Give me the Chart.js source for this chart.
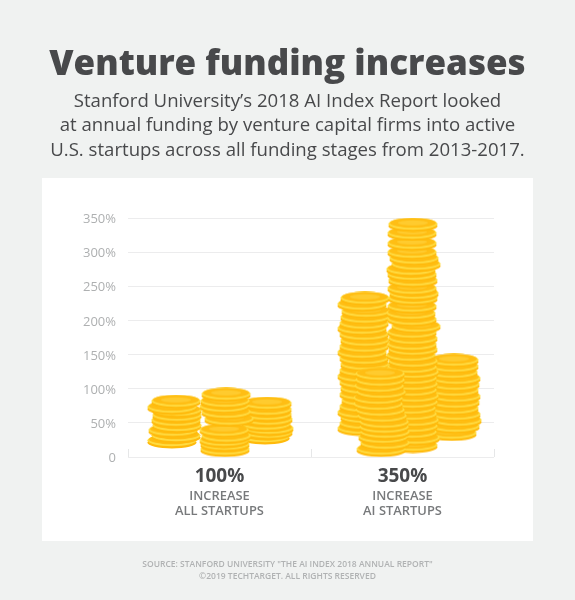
<!DOCTYPE html>
<html>
<head>
<meta charset="utf-8">
<title>Venture funding increases</title>
<script src="https://cdn.jsdelivr.net/npm/chart.js@4"></script>
<style>
  html, body { margin: 0; padding: 0; background: #f0f2f1; }
  #page { position: relative; width: 575px; height: 600px; overflow: hidden; font-family: "Open Sans", sans-serif; color: #48494b; }
  #panel { position: absolute; left: 42px; top: 178px; width: 491px; height: 363px; background: #fff; }
  #chart { position: absolute; left: 0; top: 0; }
  .line { position: absolute; left: 0; width: 575px; text-align: center; white-space: nowrap; }
  #title { top: 37px; font-size: 35px; line-height: 50px; font-weight: 800; }
  .sub { font-size: 18.6px; line-height: 24px; }
  .foot { font-size: 8.5px; line-height: 12px; font-weight: 600; color: #b0b2b3; }
</style>
</head>
<body>
<div id="page">
  <div id="panel"></div>
  <canvas id="chart" width="575" height="600"></canvas>
  <div class="line" id="title">Venture funding increases</div>
  <div class="line sub" style="top:88px">Stanford University’s 2018 AI Index Report looked</div>
  <div class="line sub" style="top:112px">at annual funding by venture capital firms into active</div>
  <div class="line sub" style="top:137px">U.S. startups across all funding stages from 2013-2017.</div>
  <div class="line foot" style="top:558px">SOURCE: STANFORD UNIVERSITY "THE AI INDEX 2018 ANNUAL REPORT"</div>
  <div class="line foot" style="top:570px">©2019 TECHTARGET. ALL RIGHTS RESERVED</div>
</div>
<script>
// headline numbers under each group
const categories = ['ALL STARTUPS', 'AI STARTUPS'];
const increases = [100, 350];

// one pair of arrays per coin stack, listed bottom coin first
const stackAx = [0.24, 0.262, 0.246, 0.268, 0.262, 0.268, 0.268, 0.24, 0.262];
const stackAy = [22.7, 30, 38, 45, 52.7, 60, 67.3, 71.7, 80.5];

const stackBx = [0.53, 0.53, 0.525, 0.536, 0.525, 0.552, 0.536, 0.525, 0.53, 0.536];
const stackBy = [10.3, 17.6, 23.4, 29.3, 38, 54.2, 64.4, 73.2, 80.5, 90.8];

const stackCx = [0.749, 0.765, 0.77, 0.754, 0.765, 0.76, 0.76, 0.76];
const stackCy = [28.6, 35.1, 41, 46.9, 54.2, 61.5, 68.8, 77.6];

const stackDx = [1.557, 1.568, 1.552, 1.557, 1.563, 1.552, 1.546, 1.557, 1.563, 1.552, 1.557, 1.552, 1.563, 1.552, 1.557, 1.546, 1.557, 1.552, 1.557, 1.552, 1.574, 1.552, 1.546, 1.552, 1.557, 1.563, 1.552, 1.557, 1.552, 1.546, 1.574, 1.563, 1.552, 1.552, 1.552, 1.557];
const stackDy = [16.1, 26.4, 35.1, 43.9, 52.7, 61.5, 70.3, 79.1, 87.9, 96.7, 105.4, 114.2, 123, 130.3, 139.1, 147.9, 156.7, 164, 172.8, 181.6, 190.4, 200.6, 209.4, 219.7, 231.4, 238.7, 246, 257.7, 266.5, 273.8, 281.2, 290, 298.7, 311.9, 326.6, 339.7];

const stackEx = [1.279, 1.29, 1.295, 1.279, 1.29, 1.301, 1.29, 1.295, 1.29, 1.279, 1.29, 1.295, 1.29, 1.279, 1.29, 1.295, 1.29, 1.279, 1.29, 1.295, 1.301, 1.279, 1.295];
const stackEy = [41, 48.3, 57.1, 64.4, 73.2, 82, 90.8, 99.6, 108.4, 117.2, 125.9, 134.7, 143.5, 152.3, 161.1, 169.9, 178.7, 187.4, 194.8, 203.6, 212.3, 222.6, 231.4];

const stackFx = [1.383, 1.404, 1.393, 1.404, 1.399, 1.399, 1.388, 1.377, 1.366, 1.366, 1.383, 1.372, 1.377, 1.377];
const stackFy = [10.3, 19, 27.8, 35.1, 42.5, 49.8, 58.6, 67.4, 76.1, 84.9, 93.7, 102.5, 111.3, 120.1];

const stackGx = [1.77, 1.787, 1.798, 1.792, 1.781, 1.787, 1.792, 1.781, 1.787, 1.792, 1.776, 1.781, 1.781];
const stackGy = [33.7, 43.9, 52.7, 61.5, 70.3, 79.1, 87.9, 96.7, 105.4, 114.2, 123, 131.8, 140.6];

// back to front
const stacks = [
  [stackCx, stackCy], [stackAx, stackAy], [stackBx, stackBy],
  [stackGx, stackGy], [stackEx, stackEy], [stackDx, stackDy], [stackFx, stackFy]
];

// one coin, used as the point image
function makeCoin() {
  const c = document.createElement('canvas');
  c.width = 52;
  c.height = 15;
  const g = c.getContext('2d');
  function oval(y, rx, ry, color) {
    g.fillStyle = color;
    g.beginPath();
    g.ellipse(26, y, rx, ry, 0, 0, Math.PI * 2);
    g.fill();
  }
  oval(8.5, 24.5, 6, '#ffba0c');
  oval(6.3, 24.5, 6, '#ffdc42');
  oval(5.3, 23, 5, '#ffbe14');
  oval(5.3, 15, 2.6, '#ffcb2e');
  return c;
}
const coin = makeCoin();

const categoryText = {
  id: 'categoryText',
  afterDraw(chart) {
    const ctx = chart.ctx;
    const x = chart.scales.x;
    const y0 = chart.scales.y.getPixelForValue(0);
    ctx.save();
    // little ticks rising from the base line
    ctx.strokeStyle = '#e6e7e8';
    ctx.lineWidth = 1;
    [0, 1, 2].forEach(v => {
      const px = Math.round(x.getPixelForValue(v)) + 0.5;
      ctx.beginPath();
      ctx.moveTo(px, y0);
      ctx.lineTo(px, y0 - 8);
      ctx.stroke();
    });
    ctx.textAlign = 'center';
    ctx.textBaseline = 'middle';
    categories.forEach((name, i) => {
      const px = x.getPixelForValue(i + 0.5);
      ctx.fillStyle = '#48494b';
      ctx.font = '700 19px "Open Sans"';
      ctx.fillText(increases[i] + '%', px, 477);
      ctx.fillStyle = '#77797b';
      ctx.font = '600 12.9px "Open Sans"';
      ctx.fillText('INCREASE', px, 496);
      ctx.fillText(name, px, 511);
    });
    ctx.restore();
  }
};

new Chart(document.getElementById('chart').getContext('2d'), {
  type: 'scatter',
  data: {
    datasets: stacks.map((s, i) => ({
      data: s[0].map((x, j) => ({ x: x, y: s[1][j] })),
      pointStyle: coin,
      pointRadius: 24,
      clip: false,
      order: stacks.length - i
    }))
  },
  options: {
    responsive: false,
    animation: false,
    layout: { padding: { left: 40, right: 81, top: 218, bottom: 143 } },
    plugins: { legend: { display: false }, tooltip: { enabled: false } },
    scales: {
      x: { type: 'linear', min: 0, max: 2, display: false },
      y: {
        min: 0,
        max: 350,
        afterFit: s => { s.width = 88; },
        border: { display: false },
        grid: { color: '#ececed', lineWidth: 1, drawTicks: false },
        ticks: {
          stepSize: 50,
          padding: 12,
          labelOffset: 1.5,
          color: '#aeb0b1',
          font: { family: '"Open Sans"', size: 13 },
          callback: v => (v === 0 ? '0' : v + '%')
        }
      }
    }
  },
  plugins: [categoryText]
});
</script>
</body>
</html>
